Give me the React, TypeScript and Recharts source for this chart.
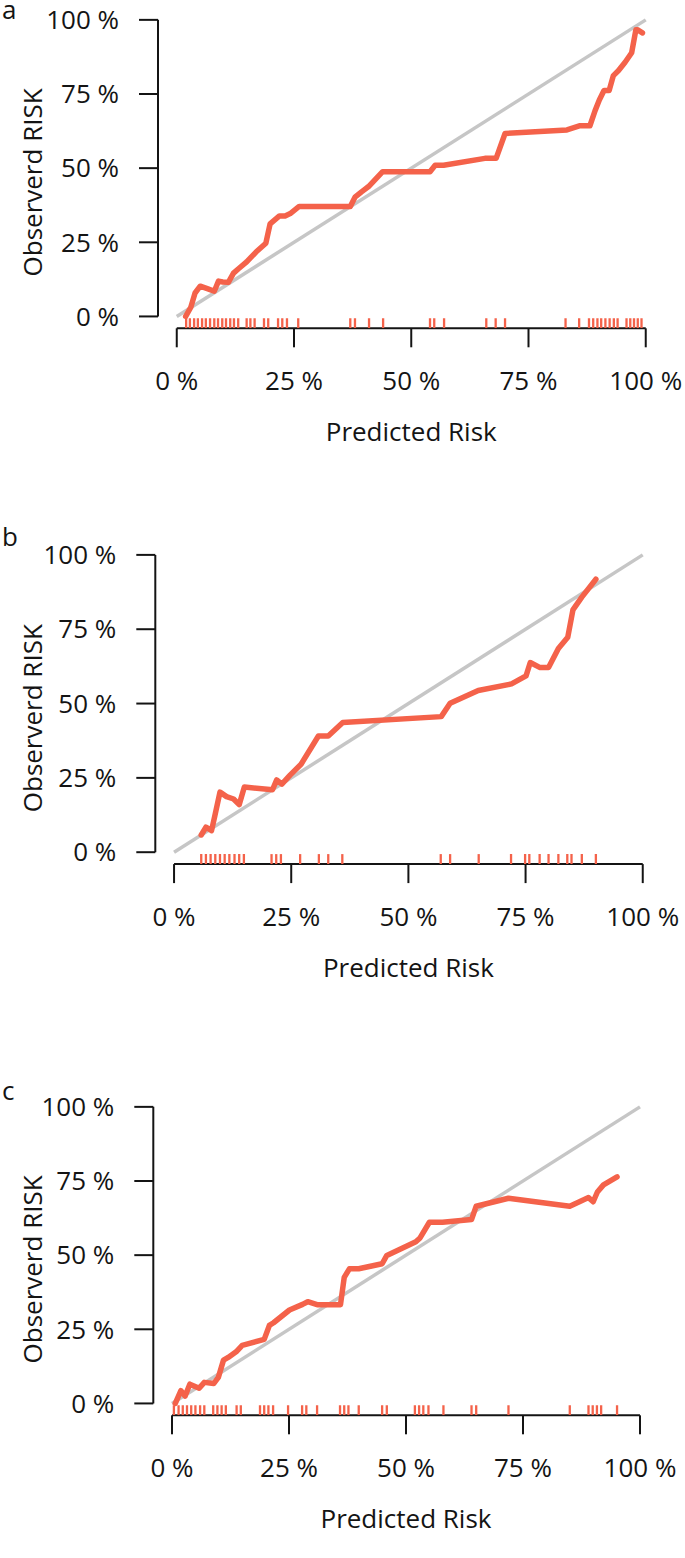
import React from "react";
import {
  ComposedChart,
  Line,
  Scatter,
  XAxis,
  YAxis,
  ReferenceLine,
} from "recharts";

const curveA = [
  { x: 0.019, y: 0.0 }, { x: 0.03, y: 0.031 }, { x: 0.039, y: 0.079 },
  { x: 0.05, y: 0.102 }, { x: 0.068, y: 0.092 }, { x: 0.08, y: 0.085 },
  { x: 0.089, y: 0.119 }, { x: 0.098, y: 0.116 }, { x: 0.11, y: 0.115 },
  { x: 0.121, y: 0.146 }, { x: 0.131, y: 0.16 }, { x: 0.149, y: 0.184 },
  { x: 0.169, y: 0.217 }, { x: 0.19, y: 0.247 }, { x: 0.199, y: 0.312 },
  { x: 0.219, y: 0.339 }, { x: 0.231, y: 0.339 }, { x: 0.242, y: 0.347 },
  { x: 0.261, y: 0.371 }, { x: 0.37, y: 0.371 }, { x: 0.38, y: 0.402 },
  { x: 0.394, y: 0.42 }, { x: 0.409, y: 0.438 }, { x: 0.439, y: 0.488 },
  { x: 0.54, y: 0.488 }, { x: 0.551, y: 0.51 }, { x: 0.569, y: 0.51 },
  { x: 0.657, y: 0.533 }, { x: 0.681, y: 0.533 }, { x: 0.7, y: 0.617 },
  { x: 0.832, y: 0.629 }, { x: 0.86, y: 0.643 }, { x: 0.881, y: 0.643 },
  { x: 0.892, y: 0.694 }, { x: 0.901, y: 0.73 }, { x: 0.911, y: 0.762 },
  { x: 0.922, y: 0.762 }, { x: 0.931, y: 0.812 }, { x: 0.942, y: 0.829 },
  { x: 0.956, y: 0.857 }, { x: 0.97, y: 0.889 }, { x: 0.979, y: 0.967 },
  { x: 0.982, y: 0.967 }, { x: 0.993, y: 0.956 },
];

const curveB = [
  { x: 0.058, y: 0.058 }, { x: 0.068, y: 0.084 }, { x: 0.08, y: 0.073 },
  { x: 0.087, y: 0.122 }, { x: 0.098, y: 0.202 }, { x: 0.112, y: 0.187 },
  { x: 0.127, y: 0.179 }, { x: 0.139, y: 0.16 }, { x: 0.15, y: 0.219 },
  { x: 0.21, y: 0.21 }, { x: 0.219, y: 0.243 }, { x: 0.23, y: 0.229 },
  { x: 0.248, y: 0.26 }, { x: 0.271, y: 0.296 }, { x: 0.308, y: 0.391 },
  { x: 0.329, y: 0.391 }, { x: 0.36, y: 0.436 }, { x: 0.57, y: 0.456 },
  { x: 0.589, y: 0.501 }, { x: 0.649, y: 0.544 }, { x: 0.72, y: 0.566 },
  { x: 0.751, y: 0.593 }, { x: 0.76, y: 0.638 }, { x: 0.781, y: 0.621 },
  { x: 0.799, y: 0.621 }, { x: 0.82, y: 0.685 }, { x: 0.84, y: 0.723 },
  { x: 0.851, y: 0.815 }, { x: 0.87, y: 0.858 }, { x: 0.9, y: 0.918 },
];

const curveC = [
  { x: 0.007, y: 0.0 }, { x: 0.019, y: 0.043 }, { x: 0.028, y: 0.025 },
  { x: 0.038, y: 0.065 }, { x: 0.058, y: 0.051 }, { x: 0.069, y: 0.071 },
  { x: 0.089, y: 0.067 }, { x: 0.099, y: 0.088 }, { x: 0.11, y: 0.146 },
  { x: 0.12, y: 0.155 }, { x: 0.137, y: 0.174 }, { x: 0.15, y: 0.196 },
  { x: 0.197, y: 0.216 }, { x: 0.208, y: 0.263 }, { x: 0.217, y: 0.272 },
  { x: 0.251, y: 0.315 }, { x: 0.279, y: 0.334 }, { x: 0.29, y: 0.343 },
  { x: 0.31, y: 0.333 }, { x: 0.36, y: 0.333 }, { x: 0.368, y: 0.425 },
  { x: 0.379, y: 0.454 }, { x: 0.399, y: 0.454 }, { x: 0.449, y: 0.471 },
  { x: 0.459, y: 0.499 }, { x: 0.521, y: 0.545 }, { x: 0.53, y: 0.558 },
  { x: 0.55, y: 0.611 }, { x: 0.578, y: 0.611 }, { x: 0.64, y: 0.62 },
  { x: 0.65, y: 0.665 }, { x: 0.719, y: 0.692 }, { x: 0.85, y: 0.665 },
  { x: 0.89, y: 0.694 }, { x: 0.9, y: 0.68 }, { x: 0.909, y: 0.713 },
  { x: 0.922, y: 0.737 }, { x: 0.951, y: 0.764 },
];

// rug marks: individual predicted risks
const rugA = [
  0.02, 0.028, 0.037, 0.045, 0.054, 0.062, 0.071, 0.08, 0.088, 0.097, 0.105,
  0.114, 0.122, 0.131, 0.149, 0.157, 0.166, 0.186, 0.195, 0.216, 0.225, 0.235,
  0.259, 0.37, 0.38, 0.41, 0.44, 0.54, 0.549, 0.57, 0.66, 0.68, 0.7, 0.829,
  0.858, 0.879, 0.888, 0.897, 0.905, 0.914, 0.923, 0.932, 0.94, 0.959, 0.967,
  0.975, 0.983, 0.991,
];

const rugB = [
  0.058, 0.068, 0.078, 0.088, 0.098, 0.108, 0.118, 0.129, 0.139, 0.149, 0.208,
  0.218, 0.228, 0.269, 0.309, 0.329, 0.359, 0.569, 0.589, 0.65, 0.719, 0.749,
  0.758, 0.78, 0.799, 0.82, 0.839, 0.848, 0.87, 0.9,
];

const rugC = [
  0.004, 0.014, 0.023, 0.032, 0.041, 0.05, 0.06, 0.069, 0.088, 0.097, 0.106,
  0.115, 0.138, 0.147, 0.188, 0.197, 0.206, 0.216, 0.248, 0.278, 0.287, 0.31,
  0.359, 0.368, 0.377, 0.399, 0.449, 0.459, 0.519, 0.528, 0.537, 0.548, 0.58,
  0.64, 0.65, 0.719, 0.85, 0.89, 0.899, 0.908, 0.917, 0.951,
];

const diagonal = [
  { x: 0, y: 0 },
  { x: 1, y: 1 },
];
const axisTicks = [0, 0.25, 0.5, 0.75, 1];

const FONT = '"Open Sans", "Noto Sans", sans-serif';
const RED = "#F4624A";
const GREY = "#C6C6C6";
const INK = "#141414";
const FONT_SIZE = 26;
const TOP_PAD = 10;
const BOTTOM_PAD = 130;

const pct = (v: number) => `${Math.round(v * 100)} %`;

const RugMark = (props: any) => {
  const { cx, cy } = props;
  return (
    <line x1={cx} x2={cx} y1={cy} y2={cy - 10} stroke={RED} strokeWidth={2.3} />
  );
};

interface PanelProps {
  letter: string;
  letterY: number;
  curve: { x: number; y: number }[];
  rug: number[];
  plotLeft: number;
  plotTop: number;
  plotWidth: number;
  plotHeight: number;
}

const Panel = ({ letter, letterY, curve, rug, plotLeft, plotTop, plotWidth, plotHeight }: PanelProps) => {
  const chartH = TOP_PAD + plotHeight + BOTTOM_PAD;
  const axisY = plotTop + plotHeight;
  const unitX = plotWidth / 1.08;
  const unitY = plotHeight / 1.08;
  const midX = plotLeft + 0.54 * unitX;
  const zeroY = axisY - 0.04 * unitY;
  const titleY = zeroY - 134;
  const rugData = rug.map((x) => ({ x, y: -0.04 }));
  const tickStyle = { fontSize: FONT_SIZE, fill: INK, fontFamily: FONT };

  return (
    <>
      <div style={{ position: "absolute", left: 0, top: plotTop - TOP_PAD }}>
        <ComposedChart
          width={685}
          height={chartH}
          margin={{ top: TOP_PAD, right: 685 - plotLeft - plotWidth, bottom: 0, left: 0 }}
        >
          <XAxis
            type="number"
            dataKey="x"
            domain={[-0.04, 1.04]}
            allowDataOverflow
            ticks={axisTicks}
            interval={0}
            tickFormatter={pct}
            axisLine={false}
            tickLine={{ stroke: INK, strokeWidth: 2 }}
            tickSize={19}
            tickMargin={24}
            height={BOTTOM_PAD}
            tick={tickStyle}
          />
          <YAxis
            type="number"
            dataKey="y"
            domain={[-0.04, 1.04]}
            allowDataOverflow
            ticks={axisTicks}
            interval={0}
            tickFormatter={pct}
            axisLine={false}
            tickLine={{ stroke: INK, strokeWidth: 2 }}
            tickSize={19}
            tickMargin={20}
            width={plotLeft}
            tick={tickStyle}
          />
          <ReferenceLine
            segment={[{ x: 0, y: -0.04 }, { x: 1, y: -0.04 }]}
            stroke={INK}
            strokeWidth={2}
            ifOverflow="visible"
          />
          <ReferenceLine
            segment={[{ x: -0.04, y: 0 }, { x: -0.04, y: 1 }]}
            stroke={INK}
            strokeWidth={2}
            ifOverflow="visible"
          />
          <Line
            data={diagonal}
            dataKey="y"
            type="linear"
            stroke={GREY}
            strokeWidth={3.5}
            dot={false}
            activeDot={false}
            isAnimationActive={false}
          />
          <Scatter data={rugData} dataKey="y" shape={RugMark} isAnimationActive={false} />
          <Line
            data={curve}
            dataKey="y"
            type="linear"
            stroke={RED}
            strokeWidth={5.5}
            strokeLinejoin="round"
            strokeLinecap="round"
            dot={false}
            activeDot={false}
            isAnimationActive={false}
          />
        </ComposedChart>
      </div>
      <svg
        width={685}
        height={chartH + 30}
        style={{ position: "absolute", left: 0, top: plotTop - TOP_PAD - 30, overflow: "visible" }}
      >
        <g transform={`translate(0, ${-(plotTop - TOP_PAD - 30)})`} fontFamily={FONT} fill={INK}>
          <text x={2} y={letterY} fontSize={FONT_SIZE}>
            {letter}
          </text>
          <text x={midX} y={axisY + 113} fontSize={FONT_SIZE} textAnchor="middle">
            Predicted Risk
          </text>
          <text
            x={42}
            y={titleY}
            fontSize={FONT_SIZE}
            textAnchor="middle"
            transform={`rotate(-90, 42, ${titleY})`}
          >
            Observerd RISK
          </text>
        </g>
      </svg>
    </>
  );
};

const App = () => {
  return (
    <div
      style={{
        position: "absolute",
        left: 0,
        top: 0,
        width: 685,
        height: 1558,
        background: "#fff",
        overflow: "hidden",
      }}
    >
      <Panel letter="a" letterY={19} curve={curveA} rug={rugA} plotLeft={158} plotTop={7.6} plotWidth={506.5} plotHeight={320.3} />
      <Panel letter="b" letterY={546} curve={curveB} rug={rugB} plotLeft={155.3} plotTop={543.1} plotWidth={506.2} plotHeight={321.1} />
      <Panel letter="c" letterY={1100} curve={curveC} rug={rugC} plotLeft={153.3} plotTop={1094.8} plotWidth={505.4} plotHeight={320.3} />
    </div>
  );
};

export default App;
